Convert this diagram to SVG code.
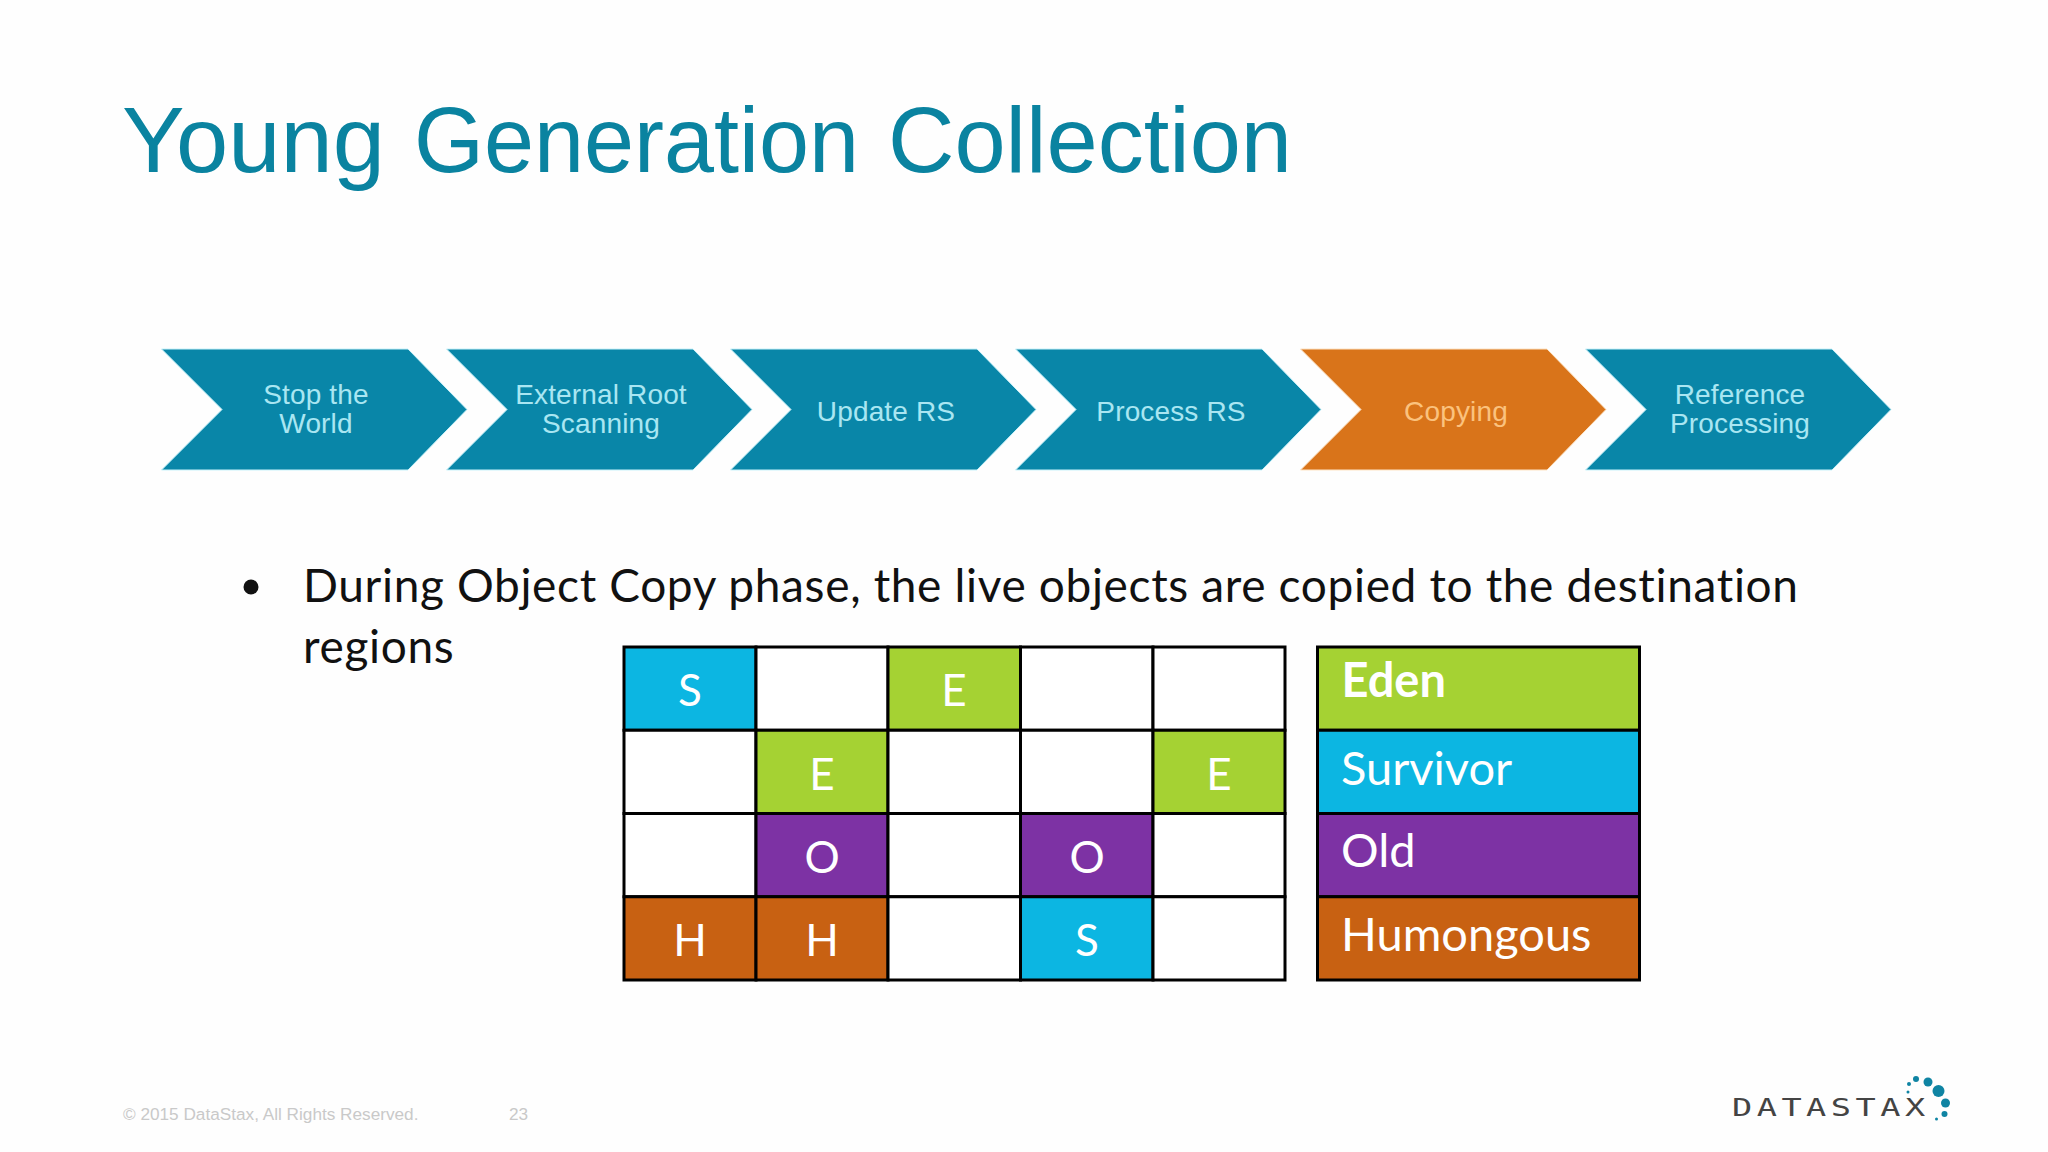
<svg xmlns="http://www.w3.org/2000/svg" width="2048" height="1152" viewBox="0 0 2048 1152">
<style>
.chev{fill:#0986a8;stroke:#c8f2fa;stroke-width:1}
.chev.o{fill:#d9741a;stroke:#fde3c4}
.ct{font-family:"Liberation Sans",Arial,sans-serif;font-size:28px;fill:#a9e6f2;text-anchor:middle;letter-spacing:.15px}
.ct.o{fill:#fbc27e}
.body{font-family:Lato,"Noto Sans",sans-serif;font-size:46px;fill:#111;letter-spacing:.65px;font-variant-ligatures:none}
.cell{stroke:#000;stroke-width:3;fill:#fff}
.g{fill:#a5d233}.b{fill:#0cb6e2}.p{fill:#7d32a4}.h{fill:#c86112}
.l{font-family:Lato,"Noto Sans",sans-serif;font-size:44px;fill:#fff;text-anchor:middle}
.lg{font-family:Lato,"Noto Sans",sans-serif;font-size:47px;fill:#fff}
.foot{font-family:"Liberation Sans",Arial,sans-serif;font-size:17.2px;fill:#c9c9c9}
.dot{fill:#0f84a3}
.title{font-family:"Liberation Sans",Arial,sans-serif;font-size:92px;fill:#0a83a0}
</style>
<rect width="2048" height="1152" fill="#fefefe"/>
<text id="title" class="title" y="172"><tspan x="122" textLength="263" lengthAdjust="spacingAndGlyphs">Young</tspan> <tspan x="414" textLength="445" lengthAdjust="spacingAndGlyphs">Generation</tspan> <tspan x="888" textLength="404" lengthAdjust="spacingAndGlyphs">Collection</tspan></text>
<g id="chevrons">
<g id="step1"><polygon class="chev" points="161.5,349 408,349 467,409.5 408,470 161.5,470 222,409.5"/><text class="ct" x="316" y="404">Stop the</text><text class="ct" x="316" y="433">World</text></g>
<g id="step2"><polygon class="chev" points="446.5,349 693,349 752,409.5 693,470 446.5,470 507,409.5"/><text class="ct" x="601" y="404">External Root</text><text class="ct" x="601" y="433">Scanning</text></g>
<g id="step3"><polygon class="chev" points="730.5,349 977,349 1036,409.5 977,470 730.5,470 791,409.5"/><text class="ct" x="886" y="421">Update RS</text></g>
<g id="step4"><polygon class="chev" points="1015.5,349 1262,349 1321,409.5 1262,470 1015.5,470 1076,409.5"/><text class="ct" x="1171" y="421">Process RS</text></g>
<g id="step5"><polygon class="chev o" points="1300.5,349 1547,349 1606,409.5 1547,470 1300.5,470 1361,409.5"/><text class="ct o" x="1456" y="421">Copying</text></g>
<g id="step6"><polygon class="chev" points="1585.5,349 1832,349 1891,409.5 1832,470 1585.5,470 1646,409.5"/><text class="ct" x="1740" y="404">Reference</text><text class="ct" x="1740" y="433">Processing</text></g>
</g>
<g id="bullet">
<circle cx="251" cy="587" r="7.5" fill="#111"/>
<text class="body" x="303" y="602">During Object Copy phase, the live objects are copied to the destination</text>
<text class="body" x="303" y="663">regions</text>
</g>
<g id="grid">
<rect class="cell b" x="624" y="647" width="132" height="83.25"/><rect class="cell" x="756" y="647" width="132" height="83.25"/><rect class="cell g" x="888" y="647" width="132.5" height="83.25"/><rect class="cell" x="1020.5" y="647" width="132.5" height="83.25"/><rect class="cell" x="1153" y="647" width="132" height="83.25"/>
<rect class="cell" x="624" y="730.25" width="132" height="83.25"/><rect class="cell g" x="756" y="730.25" width="132" height="83.25"/><rect class="cell" x="888" y="730.25" width="132.5" height="83.25"/><rect class="cell" x="1020.5" y="730.25" width="132.5" height="83.25"/><rect class="cell g" x="1153" y="730.25" width="132" height="83.25"/>
<rect class="cell" x="624" y="813.5" width="132" height="83.25"/><rect class="cell p" x="756" y="813.5" width="132" height="83.25"/><rect class="cell" x="888" y="813.5" width="132.5" height="83.25"/><rect class="cell p" x="1020.5" y="813.5" width="132.5" height="83.25"/><rect class="cell" x="1153" y="813.5" width="132" height="83.25"/>
<rect class="cell h" x="624" y="896.75" width="132" height="83.25"/><rect class="cell h" x="756" y="896.75" width="132" height="83.25"/><rect class="cell" x="888" y="896.75" width="132.5" height="83.25"/><rect class="cell b" x="1020.5" y="896.75" width="132.5" height="83.25"/><rect class="cell" x="1153" y="896.75" width="132" height="83.25"/>
<text class="l" x="690" y="706">S</text><text class="l" x="954" y="706">E</text>
<text class="l" x="822" y="790">E</text><text class="l" x="1219" y="790">E</text>
<text class="l" x="822" y="873">O</text><text class="l" x="1087" y="873">O</text>
<text class="l" x="690" y="956">H</text><text class="l" x="822" y="956">H</text><text class="l" x="1087" y="956">S</text>
</g>
<g id="legend">
<g id="eden"><rect class="cell g" x="1317.5" y="647" width="322" height="83.25"/><text class="lg" x="1341.5" y="697" font-weight="700">Eden</text></g>
<g id="survivor"><rect class="cell b" x="1317.5" y="730.25" width="322" height="83.25"/><text class="lg" x="1341" y="785">Survivor</text></g>
<g id="old"><rect class="cell p" x="1317.5" y="813.5" width="322" height="83.25"/><text class="lg" x="1341" y="867">Old</text></g>
<g id="humongous"><rect class="cell h" x="1317.5" y="896.75" width="322" height="83.25"/><text class="lg" x="1341" y="951">Humongous</text></g>
</g>
<g id="footer">
<text class="foot" x="123" y="1120">© 2015 DataStax, All Rights Reserved.</text>
<text class="foot" x="509" y="1120">23</text>
</g>
<g id="logo">
<text transform="translate(1732 1116) scale(1.4 1)" font-family="'DejaVu Sans Mono',monospace" font-size="24" fill="#444" letter-spacing="3.2">DATASTAX</text>
<circle class="dot" cx="1916" cy="1079" r="3"/><circle class="dot" cx="1928" cy="1082" r="4.5"/><circle class="dot" cx="1938.5" cy="1091" r="6"/><circle class="dot" cx="1945.5" cy="1103" r="4.5"/><circle class="dot" cx="1944.5" cy="1114" r="3"/><circle class="dot" cx="1936.5" cy="1119" r="1.5"/><circle class="dot" cx="1909" cy="1084" r="2"/><circle class="dot" cx="1908" cy="1092" r="1.5"/>
</g>
</svg>
